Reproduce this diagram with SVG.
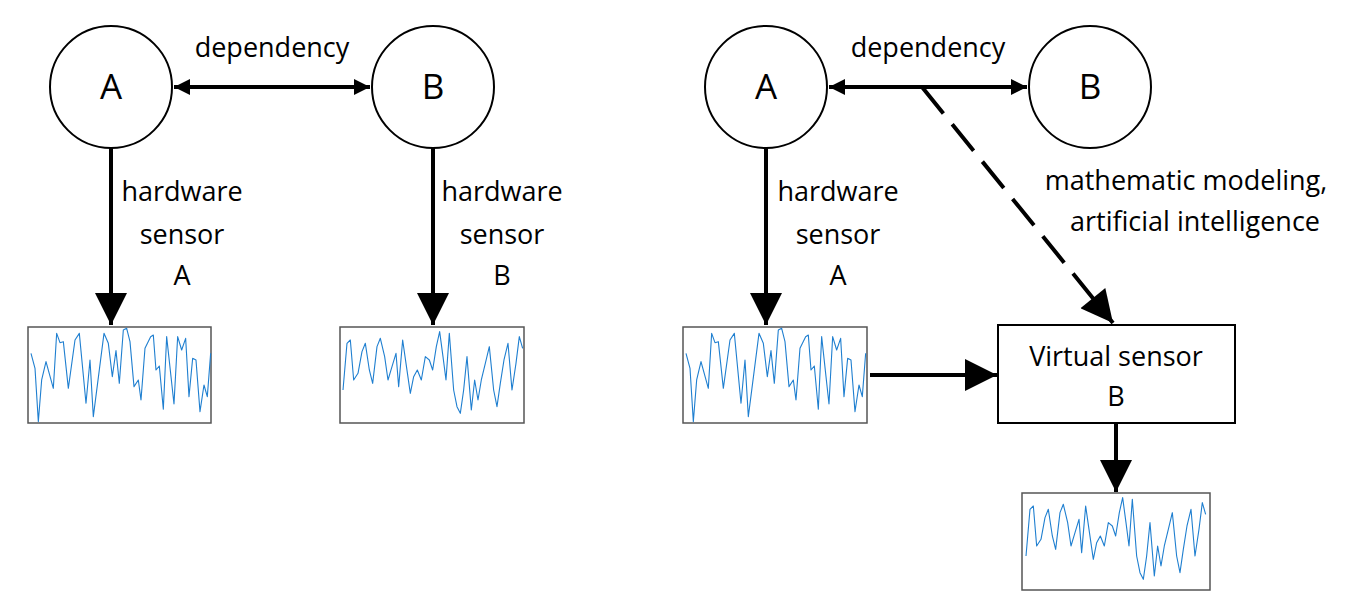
<svg xmlns="http://www.w3.org/2000/svg" width="1358" height="615" viewBox="0 0 1358 615">
<style>
text{font-family:"Open Sans","Liberation Sans",sans-serif;fill:#000}
.lbl{font-size:27px;text-anchor:middle}
.big{font-size:35px;text-anchor:middle}
.node{fill:#fff;stroke:#000;stroke-width:2}
.chart{fill:#fff;stroke:#555;stroke-width:1.5}
.wave{fill:none;stroke:#1f7fd0;stroke-width:3.3;stroke-linejoin:round}
.c{stroke:#000;stroke-width:4;fill:none}
</style>
<defs>
<marker id="big" viewBox="0 0 10 10" refX="10" refY="5" markerWidth="9" markerHeight="8" markerUnits="strokeWidth" orient="auto"><path d="M0,0L10,5L0,10z"/></marker>
<marker id="sm" viewBox="0 0 10 10" refX="10" refY="5" markerWidth="4.5" markerHeight="4" markerUnits="strokeWidth" orient="auto-start-reverse"><path d="M0,0L10,5L0,10z"/></marker>
<polyline id="w1" class="wave" points="33,220 45,265 55,425 65,300 78,245 100,325 110,160 120,188 130,185 145,325 165,180 178,160 198,370 210,240 220,410 252,160 265,190 277,290 288,212 298,310 310,150 320,145 330,185 342,320 355,300 363,360 375,205 392,170 400,165 408,270 418,258 430,388 440,170 462,372 473,170 485,210 497,175 507,350 518,235 528,240 540,395 552,315 562,350 572,220"/>
<polyline id="w2" class="wave" points="33,330 45,190 55,180 65,300 78,280 90,215 100,190 112,270 122,310 135,200 145,175 158,230 168,300 180,260 192,220 200,320 212,180 222,250 235,340 245,290 256,270 268,300 280,230 292,240 302,270 313,200 323,155 333,230 342,300 352,160 365,330 375,380 385,400 395,330 405,230 418,390 428,300 438,360 448,300 460,250 472,200 485,330 495,380 505,310 516,240 528,190 540,330 552,250 562,170 572,205"/>
</defs>
<g id="connectors">
<line class="c" x1="174" y1="87" x2="370" y2="87" marker-start="url(#sm)" marker-end="url(#sm)"/>
<line class="c" x1="111" y1="147" x2="111" y2="325" marker-end="url(#big)"/>
<line class="c" x1="433" y1="147" x2="433" y2="325" marker-end="url(#big)"/>
<line class="c" x1="829" y1="87" x2="1027" y2="87" marker-start="url(#sm)" marker-end="url(#sm)"/>
<line class="c" x1="766" y1="147" x2="766" y2="325" marker-end="url(#big)"/>
<line class="c" x1="922" y1="87" x2="1113" y2="323" stroke-dasharray="34,14" marker-end="url(#big)"/>
<line class="c" x1="870" y1="375" x2="997" y2="375" marker-end="url(#big)"/>
<line class="c" x1="1116" y1="423" x2="1116" y2="492" marker-end="url(#big)"/>
</g>
<g id="nodeA1"><circle class="node" cx="111" cy="87" r="61"/><text class="big" x="111" y="99">A</text></g>
<g id="nodeB1"><circle class="node" cx="433" cy="87" r="61"/><text class="big" x="433" y="99">B</text></g>
<g id="nodeA2"><circle class="node" cx="766" cy="87" r="61"/><text class="big" x="766" y="99">A</text></g>
<g id="nodeB2"><circle class="node" cx="1090" cy="87" r="61"/><text class="big" x="1090" y="99">B</text></g>
<g id="labels">
<text class="lbl" x="272" y="57">dependency</text>
<text class="lbl" x="928" y="57">dependency</text>
<text class="lbl" x="182" y="201">hardware</text><text class="lbl" x="182" y="244">sensor</text><text class="lbl" x="182" y="285">A</text>
<text class="lbl" x="502" y="201">hardware</text><text class="lbl" x="502" y="244">sensor</text><text class="lbl" x="502" y="285">B</text>
<text class="lbl" x="838" y="201">hardware</text><text class="lbl" x="838" y="244">sensor</text><text class="lbl" x="838" y="285">A</text>
<text class="lbl" x="1186" y="190">mathematic modeling,</text>
<text class="lbl" x="1195" y="231">artificial intelligence</text>
</g>
<g id="chart1"><rect class="chart" x="28" y="327" width="183" height="96"/><g transform="translate(20,280) scale(0.3333)"><use href="#w1"/></g></g>
<g id="chart2"><rect class="chart" x="340" y="327" width="184" height="96"/><g transform="translate(332,280) scale(0.3333)"><use href="#w2"/></g></g>
<g id="chart3"><rect class="chart" x="683" y="327" width="184" height="96"/><g transform="translate(675,280) scale(0.3333)"><use href="#w1"/></g></g>
<g id="virtual"><rect class="node" x="998" y="325" width="237" height="98"/><text class="lbl" x="1116" y="366">Virtual sensor</text><text class="lbl" x="1116" y="406">B</text></g>
<g id="chart4"><rect class="chart" x="1022" y="493" width="188" height="97"/><g transform="translate(1015,446) scale(0.3333)"><use href="#w2"/></g></g>
</svg>
